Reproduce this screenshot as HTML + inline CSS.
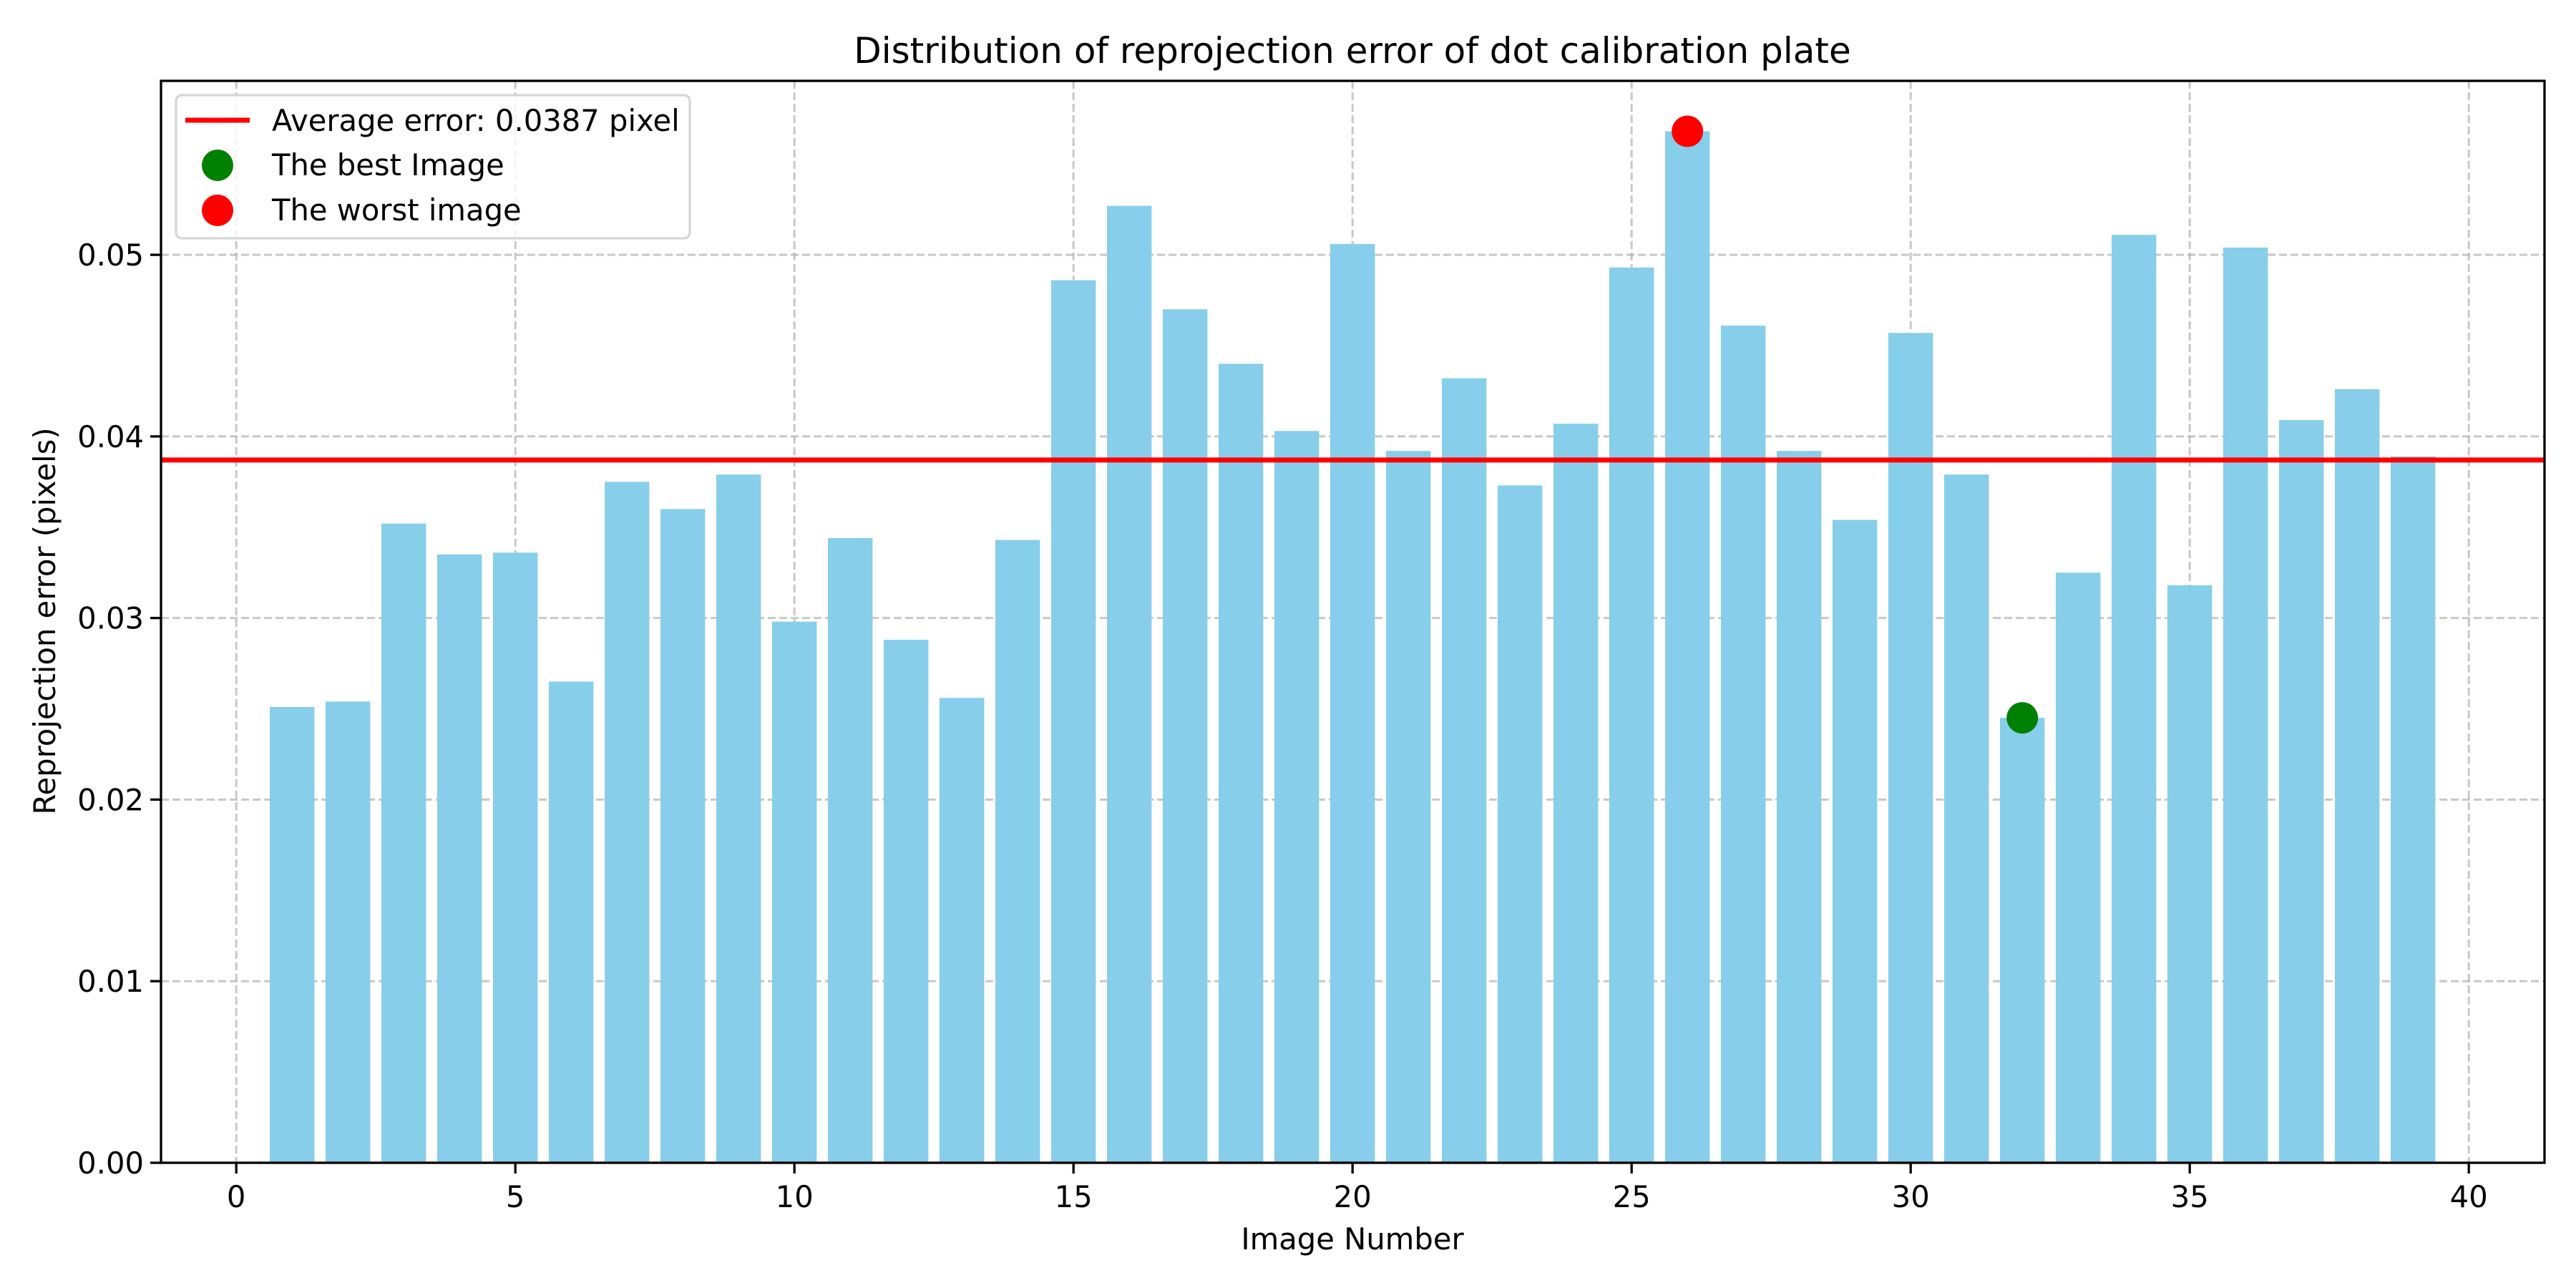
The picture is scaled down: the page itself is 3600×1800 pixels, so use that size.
<!DOCTYPE html>
<html><head><meta charset="utf-8"><style>
html,body{margin:0;padding:0;background:#fff;}
svg{display:block;font-family:"DejaVu Sans","Liberation Sans",sans-serif;}
</style></head><body>
<svg id="chart" width="3600" height="1800" viewBox="0 0 3600 1800">
<rect width="3600" height="1800" fill="#fff"/>
<g id="grid"></g>
<g id="bars"></g>
<g id="overlay"></g>
<g id="axes"></g>
<text x="1890" y="88" font-size="50" text-anchor="middle">Distribution of reprojection error of dot calibration plate</text>
<text x="1890" y="1746" font-size="41.7" text-anchor="middle">Image Number</text>
<text x="0" y="0" font-size="41.7" text-anchor="middle" transform="translate(77,868) rotate(-90)">Reprojection error (pixels)</text>
<g>
<rect x="246" y="133" width="718" height="200" rx="8" fill="#fff" fill-opacity="0.8" stroke="#d6d6d6" stroke-width="3.3"/>
<line x1="259" y1="168" x2="349" y2="168" stroke="#ff0000" stroke-width="7"/>
<text x="380" y="183" font-size="41.7">Average error: 0.0387 pixel</text>
<circle cx="304" cy="231" r="22" fill="#008000"/>
<text x="380" y="245" font-size="41.7">The best Image</text>
<circle cx="304" cy="294" r="22" fill="#ff0000"/>
<text x="380" y="308" font-size="41.7">The worst image</text>
</g>
</svg>
<script>
const imageNumbers = [1,2,3,4,5,6,7,8,9,10,11,12,13,14,15,16,17,18,19,20,21,22,23,24,25,26,27,28,29,30,31,32,33,34,35,36,37,38,39];
const errors = [0.0251,0.0254,0.0352,0.0335,0.0336,0.0265,0.0375,0.0360,0.0379,0.0298,0.0344,0.0288,0.0256,0.0343,0.0486,0.0527,0.0470,0.0440,0.0403,0.0506,0.0392,0.0432,0.0373,0.0407,0.0493,0.0568,0.0461,0.0392,0.0354,0.0457,0.0379,0.0245,0.0325,0.0511,0.0318,0.0504,0.0409,0.0426,0.0389];
const meanError = [0.0387];
const xTicks = [0,5,10,15,20,25,30,35,40];
const yTicks = [0,0.01,0.02,0.03,0.04,0.05];
const yTickLabels = ["0.00","0.01","0.02","0.03","0.04","0.05"];

const L=225, R=3556, T=113, B=1625;
const X0=330.2, XS=78.0;
const YMAX=0.05958;
function xs(v){return X0+v*XS;}
function ys(v){return B-v/YMAX*(B-T);}
const NS="http://www.w3.org/2000/svg";
function mk(tag,attrs,parent){const e=document.createElementNS(NS,tag);for(const k in attrs)e.setAttribute(k,attrs[k]);parent.appendChild(e);return e;}
const grid=document.getElementById('grid'),bars=document.getElementById('bars'),ov=document.getElementById('overlay'),axes=document.getElementById('axes');

xTicks.forEach(t=>{
  const g=mk('line',{x1:xs(t),x2:xs(t),y1:T,y2:B,stroke:'#b0b0b0','stroke-opacity':0.7,'stroke-width':3,'stroke-dasharray':'11 5'},grid);
  
  
});
yTicks.forEach(t=>{
  const g=mk('line',{x1:L,x2:R,y1:ys(t),y2:ys(t),stroke:'#b0b0b0','stroke-opacity':0.7,'stroke-width':3,'stroke-dasharray':'11 5'},grid);
  
  
});
imageNumbers.forEach((n,i)=>{
  const w=0.8*XS;
  const b=mk('rect',{x:xs(n)-w/2,y:ys(errors[i]),width:w,height:B-ys(errors[i]),fill:'#87ceeb'},bars);
  
  
});
const ml=mk('line',{x1:L,x2:R,y1:ys(meanError[0]),y2:ys(meanError[0]),stroke:'#ff0000','stroke-width':7},ov);


let bi=0,wi=0;
errors.forEach((e,i)=>{if(e<errors[bi])bi=i;if(e>errors[wi])wi=i;});
const bc=mk('circle',{cx:xs(imageNumbers[bi]),cy:ys(errors[bi]),r:22,fill:'#008000'},ov);


const wc=mk('circle',{cx:xs(imageNumbers[wi]),cy:ys(errors[wi]),r:22,fill:'#ff0000'},ov);



const fr=mk('rect',{x:L,y:T,width:R-L,height:B-T,fill:'none',stroke:'#000','stroke-width':3.3},axes);


xTicks.forEach(t=>{
  const tk=mk('line',{x1:xs(t),x2:xs(t),y1:B,y2:B+15,stroke:'#000','stroke-width':3.3},axes);
  
  
  const tx=mk('text',{x:xs(t),y:1687,'font-size':41.7,'text-anchor':'middle'},axes);
  tx.textContent=String(t);
  
  
});
yTicks.forEach((t,i)=>{
  const tk=mk('line',{x1:L-15,x2:L,y1:ys(t),y2:ys(t),stroke:'#000','stroke-width':3.3},axes);
  
  
  const tx=mk('text',{x:L-24,y:ys(t)+15,'font-size':41.7,'text-anchor':'end'},axes);
  tx.textContent=yTickLabels[i];
  
  
});
</script>
</body></html>
